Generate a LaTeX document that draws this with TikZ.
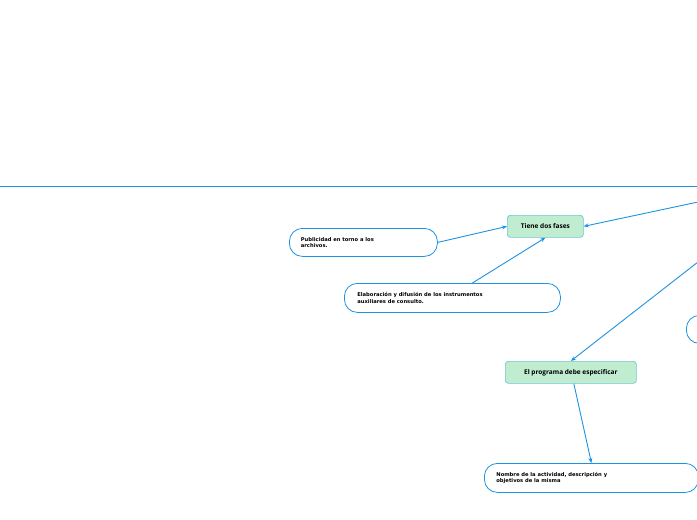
\documentclass[tikz,border=0pt]{standalone}
\usepackage{fontspec}
\usetikzlibrary{arrows.meta}
\setmainfont{DejaVu Sans}
\newfontfamily\boxfont{Open Sans}
\definecolor{lineblue}{HTML}{1C93E0}
\definecolor{boxgreen}{HTML}{C0ECD0}
\definecolor{boxborder}{HTML}{6CC7D8}
\begin{document}
\begin{tikzpicture}[x=1pt,y=-1pt,
  conn/.style={draw=lineblue,line width=0.9pt,-{Stealth[length=5pt,width=4pt]}},
  topic/.style={draw=boxborder,fill=boxgreen,rounded corners=3pt,line width=0.7pt,font=\boxfont\bfseries\fontsize{6.5}{7.5}\selectfont,inner sep=0pt,anchor=north west},
  leaf/.style={draw=lineblue,rounded corners=13pt,line width=0.8pt,font=\bfseries\fontsize{5.2}{6.5}\selectfont,align=left,anchor=north west,inner sep=0pt}]
\useasboundingbox (0,0) rectangle (697,520);
\clip (0,0) rectangle (697,520);
\draw[lineblue,line width=1pt] (0,186) -- (697,186);
\node[topic,minimum width=76pt,minimum height=22pt] (fases) at (507,215) {Tiene dos fases};
\node[topic,minimum width=131pt,minimum height=22pt] (prog) at (505,361) {El programa debe especificar};
\node[leaf,minimum width=148pt,minimum height=28pt] (pub) at (289,228) {\parbox{125pt}{Publicidad en torno a los\\archivos.}};
\node[leaf,minimum width=216pt,minimum height=29pt] (elab) at (344,283) {\parbox{190pt}{Elaboración y difusión de los instrumentos\\auxiliares de consulto.}};
\node[leaf,minimum width=214pt,minimum height=29pt] (nom) at (484,463) {\parbox{190pt}{Nombre de la actividad, descripción y\\objetivos de la misma}};
\node[leaf,minimum width=80pt,minimum height=28pt] (right) at (686,315) {};
\coordinate (r1) at (698,202);
\coordinate (r2) at (698,262);
\draw[conn] (r1) -- (fases.east);
\draw[conn] (r2) -- (prog.north);
\draw[conn] (pub.east) -- (fases.west);
\draw[conn] (elab.north) ++(20,0) -- (fases.south);
\draw[conn] (prog.south) ++(3,0) -- (nom.north);
\end{tikzpicture}
\end{document}
